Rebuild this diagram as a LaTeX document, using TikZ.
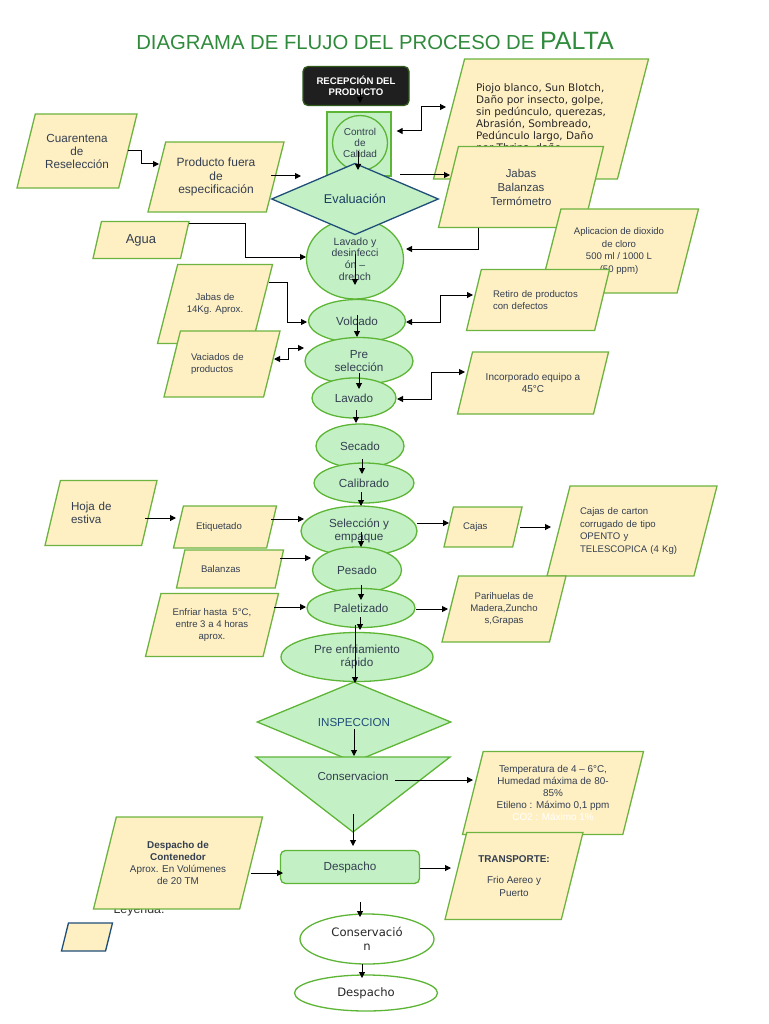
\documentclass[tikz,border=0pt]{standalone}
\usepackage{fontspec}
\setmainfont{Liberation Sans}
\newfontfamily\dejavu{DejaVu Sans}
\usetikzlibrary{shapes.geometric,arrows.meta}
\definecolor{boxfill}{HTML}{FFF0C4}
\definecolor{boxline}{HTML}{6DB33F}
\definecolor{ovalfill}{HTML}{C4F0C6}
\definecolor{ovalline}{HTML}{5DB536}
\definecolor{navy}{HTML}{1F4E79}
\definecolor{txt}{HTML}{333F50}
\definecolor{titlegreen}{HTML}{2F8B3B}
\tikzstyle{para}=[trapezium,trapezium left angle=75,trapezium right angle=105,trapezium stretches body=true,draw=boxline,fill=boxfill,line width=1.3pt,inner xsep=1pt,text=txt,align=center]
\tikzstyle{oval}=[ellipse,draw=ovalline,fill=ovalfill,line width=1.3pt,inner sep=0pt,text=txt,align=center]
\tikzstyle{arr}=[-{Triangle[length=6pt,width=6pt]},line width=1pt]
\tikzstyle{dbl}=[{Triangle[length=6pt,width=6pt]}-{Triangle[length=6pt,width=6pt]},line width=1pt]
\tikzstyle{smalltext}=[font=\fontsize{9.6}{12.4}\selectfont]
\tikzstyle{bigtext}=[font=\fontsize{11.7}{13.5}\selectfont]

\begin{document}
\begin{tikzpicture}[x=1pt,y=-1pt]
  \useasboundingbox (0,0) rectangle (768,1024);
  \fill[white] (0,0) rectangle (768,1024);

  \node[text=titlegreen,font=\fontsize{20.3}{23}\selectfont] (title) at (375,41)
    {DIAGRAMA DE FLUJO DEL PROCESO DE {\fontsize{25}{27}\selectfont PALTA}};

  % top of the column
  \node[rectangle,rounded corners=5pt,fill=black!88,draw=ovalline!50!black,line width=1.3pt,
    minimum width=106pt,minimum height=39pt,text=white,align=center,
    font=\bfseries\fontsize{9.6}{11.5}\selectfont] (recep) at (356,86) {RECEPCIÓN DEL\\PRODUCTO};
  \node[rectangle,draw=ovalline,fill=ovalfill,line width=1.3pt,minimum width=64pt,
    minimum height=64pt] (ctrlsq) at (359,144) {};
  \node[circle,draw=ovalline,fill=ovalfill,line width=1.3pt,minimum size=55pt,inner sep=0pt,
    text=txt,align=center,font=\fontsize{10}{11.4}\selectfont] (ctrl) at (360,143) {Control\\de\\Calidad};

  \node[para,inner ysep=17pt,minimum width=120pt,minimum height=74pt,font=\fontsize{11.7}{13}\selectfont] (cuar)
    at (77,151) {Cuarentena\\de\\Reselección};
  \node[para,inner ysep=14pt,minimum width=136pt,minimum height=70pt,font=\fontsize{12}{13.5}\selectfont] (prod)
    at (216,177) {Producto fuera\\de\\especificación};

  \node[para,inner ysep=23pt,minimum width=215pt,minimum height=120pt,text=black!85,align=left,
    font=\dejavu\fontsize{10.4}{12}\selectfont] (piojo) at (541,119)
    {Piojo blanco, Sun Blotch,\\Daño por insecto, golpe,\\sin pedúnculo, querezas,\\Abrasión, Sombreado,\\Pedúnculo largo, Daño\\por Thrips, daño};
  \node[para,inner ysep=19pt,minimum width=165pt,minimum height=81pt,font=\fontsize{11.4}{14}\selectfont] (jabas)
    at (521,187) {Jabas\\Balanzas\\Termómetro};
  \node[para,smalltext,inner ysep=17pt,minimum width=159pt,minimum height=84pt] (aplic) at (619,251)
    {Aplicacion de dioxido\\de cloro\\500 ml / 1000 L\\(50 ppm)};

  \node[para,inner ysep=10pt,minimum width=96pt,minimum height=37pt,font=\fontsize{13}{15}\selectfont] (agua)
    at (141,240) {Agua};
  \node[para,smalltext,inner ysep=27pt,minimum width=115pt,minimum height=79pt] (jab14) at (215,304)
    {Jabas de\\14Kg. Aprox.};
  \node[para,smalltext,inner ysep=20pt,minimum width=116pt,minimum height=66pt,align=left,text width=62pt] (vaci)
    at (222,364) {Vaciados de\\productos};

  \node[oval,minimum width=97pt,minimum height=80pt,font=\fontsize{10.5}{11.8}\selectfont] (lavdes)
    at (355,259) {Lavado y\\desinfecci\\ón –\\drench};
  \node[diamond,draw=navy,fill=ovalfill,line width=1.3pt,minimum width=167pt,minimum height=62pt,
    inner sep=0pt,text=navy!80!black,font=\fontsize{12.7}{14}\selectfont] (eval) at (355,199) {Evaluación};
  \node[oval,bigtext,minimum width=97pt,minimum height=43pt] (volc) at (357,321) {Volcado};
  \node[oval,bigtext,minimum width=108pt,minimum height=47pt] (presel) at (359,361) {Pre\\selección};
  \node[oval,bigtext,minimum width=84pt,minimum height=40pt] (lav) at (354,398) {Lavado};

  \node[para,smalltext,inner ysep=18pt,minimum width=143pt,minimum height=61pt,align=left,text width=90pt] (retiro)
    at (538,300) {Retiro de productos\\con defectos};
  \node[para,inner ysep=18pt,minimum width=151pt,minimum height=62pt,font=\fontsize{10}{12.8}\selectfont] (incorp)
    at (533,383) {Incorporado equipo a\\45°C};

  \node[oval,bigtext,minimum width=88pt,minimum height=44pt] (secado) at (360,446) {Secado};
  \node[oval,bigtext,minimum width=100pt,minimum height=40pt] (calib) at (364,483) {Calibrado};

  \node[para,inner ysep=18pt,minimum width=112pt,minimum height=65pt,align=left,text width=60pt,
    font=\fontsize{11.6}{13}\selectfont] (hoja) at (101,513) {Hoja de\\estiva};
  \node[para,smalltext,inner ysep=14pt,minimum width=103pt,minimum height=42pt,align=left,text width=58pt] (etiq)
    at (225,527) {Etiquetado};
  \node[para,smalltext,inner ysep=12pt,minimum width=107pt,minimum height=38pt,align=left,text width=58pt] (balan)
    at (230,569) {Balanzas};

  \node[oval,bigtext,minimum width=116pt,minimum height=50pt] (selec) at (359,531) {Selección y\\empaque};
  \node[oval,bigtext,minimum width=89pt,minimum height=46pt] (pesado) at (357,570) {Pesado};
  \node[oval,bigtext,minimum width=108pt,minimum height=39pt] (palet) at (361,608) {Paletizado};

  \node[para,smalltext,inner ysep=13pt,minimum width=78pt,minimum height=40pt,align=left,text width=40pt] (cajas)
    at (483,527) {Cajas};
  \node[para,smalltext,inner ysep=20pt,minimum width=170pt,minimum height=90pt,align=left,text width=104pt] (carton)
    at (632,531) {Cajas de carton\\corrugado de tipo\\OPENTO y\\TELESCOPICA (4 Kg)};
  \node[para,smalltext,inner ysep=14pt,minimum width=124pt,minimum height=66pt] (parih) at (504,609)
    {Parihuelas de\\Madera,Zuncho\\s,Grapas};
  \node[para,smalltext,inner ysep=12pt,minimum width=133pt,minimum height=63pt] (enfr) at (212,625)
    {Enfriar hasta\ \ 5°C,\\entre 3 a 4 horas\\aprox.};

  \node[oval,bigtext,minimum width=152pt,minimum height=49pt] (preenf) at (357,657) {Pre enfriamiento\\rápido};

  % lower part
  \node[diamond,draw=ovalline,fill=ovalfill,line width=1.3pt,minimum width=194pt,minimum height=62pt,
    inner sep=0pt,text=navy,font=\fontsize{11.6}{13}\selectfont] (insp) at (354,722) {INSPECCION};
  \draw[draw=ovalline,fill=ovalfill,line width=1.3pt] (256,757) -- (450,757) -- (353,832) -- cycle;
  \node[text=txt,font=\fontsize{11.6}{13}\selectfont] (cons) at (353,776) {Conservacion};

  \node[para,inner ysep=11pt,minimum width=181pt,minimum height=83pt,font=\fontsize{9.9}{12}\selectfont] (temp)
    at (553,793) {Temperatura de 4 – 6°C,\\Humedad máxima de 80-\\85\%\\Etileno : Máximo 0,1 ppm\\{\color{white}CO2 : Máximo 1\%}};
  \node[para,inner ysep=20pt,minimum width=138pt,minimum height=87pt,font=\fontsize{9.9}{12.5}\selectfont] (transp)
    at (514,876) {\textbf{TRANSPORTE:}\\[9pt]Frio Aereo y\\Puerto};
  \node[rectangle,rounded corners=5pt,draw=ovalline,fill=ovalfill,line width=1.3pt,bigtext,
    minimum width=139pt,minimum height=33pt,text=txt] (desp) at (350,867) {Despacho};

  \node[anchor=base west,text=black!80,font=\fontsize{12.4}{14}\selectfont] (leyenda) at (110,913) {Leyenda:};
  \node[para,inner ysep=21pt,minimum width=169pt,minimum height=92pt,font=\fontsize{9.9}{12}\selectfont] (cont)
    at (178,863) {\textbf{Despacho de}\\\textbf{Contenedor}\\Aprox. En Volúmenes\\de 20 TM};
  \node[para,draw=navy,inner ysep=13pt,minimum width=51pt,minimum height=28pt] (leg) at (87,937) {};

  \node[oval,fill=white,text=black!85,minimum width=134pt,minimum height=50pt,
    font=\dejavu\fontsize{11.6}{14}\selectfont] (consb) at (367,939) {Conservació\\n};
  \node[oval,fill=white,text=black!85,minimum width=143pt,minimum height=36pt,
    font=\dejavu\fontsize{11.6}{14}\selectfont] (despb) at (366,993) {Despacho};

  % connectors
  \draw[arr] ([shift={(4,6)}]recep.center) -- ([shift={(1,-41)}]ctrlsq.center);
  \draw[arr] ([shift={(-2,8)}]ctrl.center) -- ([shift={(3,-29)}]eval.center);
  \draw[dbl] ([shift={(5,-13)}]ctrlsq.east) -- ++(25,0) |- ([shift={(-95,-12)}]piojo.center);
  \draw[arr] ([shift={(51,0)}]cuar.center) -- ++(13,0) |- ([shift={(-57,-13)}]prod.center);
  \draw[arr] ([shift={(55,-1)}]prod.center) -- ([shift={(-54,-23)}]eval.center);
  \draw[arr] ([shift={(45,-24)}]eval.center) -- ([shift={(-71,-12)}]jabas.center);
  \draw[arr] ([shift={(48,-16)}]agua.center) -- ++(56,0) |- ([shift={(-49,-2)}]lavdes.center);
  \draw[arr] ([shift={(-43,41)}]jabas.center) |- ([shift={(51,-10)}]lavdes.center);
  \draw[arr] ([shift={(0,-5)}]lavdes.center) -- ([shift={(-2,-36)}]volc.center);
  \draw[arr] ([shift={(54,-22)}]jab14.center) -- ++(18,0) |- ([shift={(-50,1)}]volc.center);
  \draw[dbl] ([shift={(49,1)}]volc.center) -- ++(34,0) |- ([shift={(-65,-5)}]retiro.center);
  \draw[arr] ([shift={(0,-6)}]volc.center) -- ([shift={(-2,-24)}]presel.center);
  \draw[dbl] ([shift={(52,-5)}]vaci.center) -- ++(14,0) |- ([shift={(-55,-13)}]presel.center);
  \draw[arr] ([shift={(0,12)}]presel.center) -- ([shift={(5,-9)}]lav.center);
  \draw[dbl] ([shift={(43,1)}]lav.center) -- ++(34,0) |- ([shift={(-68,-11)}]incorp.center);
  \draw[arr] ([shift={(2,12)}]lav.center) -- ([shift={(-4,-23)}]secado.center);
  \draw[arr] ([shift={(2,13)}]secado.center) -- ([shift={(-2,-9)}]calib.center);
  \draw[arr] ([shift={(-3,9)}]calib.center) -- ([shift={(2,-25)}]selec.center);
  \draw[arr] ([shift={(44,5)}]hoja.center) -- ([shift={(-49,-9)}]etiq.center);
  \draw[arr] ([shift={(46,-8)}]etiq.center) -- ([shift={(-55,-12)}]selec.center);
  \draw[arr] ([shift={(58,-8)}]selec.center) -- ([shift={(-34,-4)}]cajas.center);
  \draw[arr] ([shift={(37,0)}]cajas.center) -- ([shift={(-81,-4)}]carton.center);
  \draw[arr] ([shift={(2,1)}]selec.center) -- ([shift={(4,-23)}]pesado.center);
  \draw[arr] ([shift={(50,-11)}]balan.center) -- ([shift={(-46,-12)}]pesado.center);
  \draw[arr] ([shift={(4,15)}]pesado.center) -- ([shift={(0,-8)}]palet.center);
  \draw[arr] ([shift={(62,-18)}]enfr.center) -- ([shift={(-55,-1)}]palet.center);
  \draw[arr] ([shift={(55,1)}]palet.center) -- ([shift={(-56,0)}]parih.center);
  \draw[arr] ([shift={(-1,9)}]palet.center) -- ([shift={(3,-27)}]preenf.center);
  \draw[arr] ([shift={(-2,-32)}]preenf.center) -- ([shift={(1,-39)}]insp.center);
  \draw[arr] ([shift={(0,7)}]insp.center) -- ([shift={(1,-20)}]cons.center);
  \draw[arr] ([shift={(42,4)}]cons.center) -- ([shift={(-80,-13)}]temp.center);
  \draw[arr] ([shift={(0,38)}]cons.center) -- ([shift={(3,-21)}]desp.center);
  \draw[arr] ([shift={(73,10)}]cont.center) -- ([shift={(-67,6)}]desp.center);
  \draw[arr] ([shift={(70,1)}]desp.center) -- ([shift={(-63,-8)}]transp.center);
  \draw[arr] ([shift={(10,35)}]desp.center) -- ([shift={(-7,-22)}]consb.center);
  \draw[arr] ([shift={(-5,25)}]consb.center) -- ([shift={(-4,-15)}]despb.center);
\end{tikzpicture}
\end{document}
